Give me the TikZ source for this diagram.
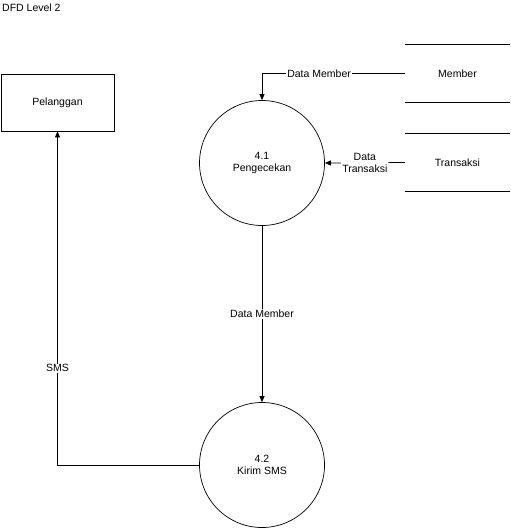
\documentclass[tikz,border=0pt]{standalone}
\usepackage{fontspec}
\setmainfont{Liberation Sans}
\usetikzlibrary{positioning,arrows.meta}

\begin{document}
\begin{tikzpicture}[
        x=1pt, y=-1pt,
        every node/.style={font=\fontsize{10.5}{12.5}\selectfont},
        process/.style={circle, draw, line width=0.7pt, minimum size=125pt, align=center, inner sep=0pt},
        entity/.style={rectangle, draw, line width=0.8pt, minimum width=113pt, minimum height=57pt},
        store/.style={minimum width=105pt, minimum height=57pt, inner sep=0pt},
        flow/.style={draw, line width=0.7pt, -{Triangle[length=6pt,width=5pt]}},
        flowlabel/.style={fill=white, inner sep=1pt, align=center}
    ]
        \useasboundingbox (0,0) rectangle (511,528);

        % Title
        \node[anchor=west, inner sep=0pt] (title) at (2,8) {DFD Level 2};

        % Nodes
        \node[entity] (pelanggan) at (57.5,102.5) {Pelanggan};
        \node[process] (p41) at (262,163) {4.1\\Pengecekan};
        \node[process] (p42) at (262,465) {4.2\\Kirim SMS};
        \node[store] (member) at (457.5,73.5) {Member};
        \node[store] (transaksi) at (457.5,162.5) {Transaksi};

        % Data stores
        \draw[line width=0.9pt] (member.north west) -- (member.north east);
        \draw[line width=0.9pt] (member.south west) -- (member.south east);
        \draw[line width=0.9pt] (transaksi.north west) -- (transaksi.north east);
        \draw[line width=0.9pt] (transaksi.south west) -- (transaksi.south east);

        % Flows
        \draw[flow] (member.west) -| (p41.north) node[pos=0.3, flowlabel] {Data Member};
        \draw[flow] (transaksi.west) -- (p41.east) node[midway, flowlabel] {Data\\Transaksi};
        \draw[flow] (p41.south) -- (p42.north) node[midway, flowlabel] {Data Member};
        \draw[flow] (p42.west) -| (pelanggan.south) node[pos=0.645, flowlabel] {SMS};
    \end{tikzpicture}
\end{document}
